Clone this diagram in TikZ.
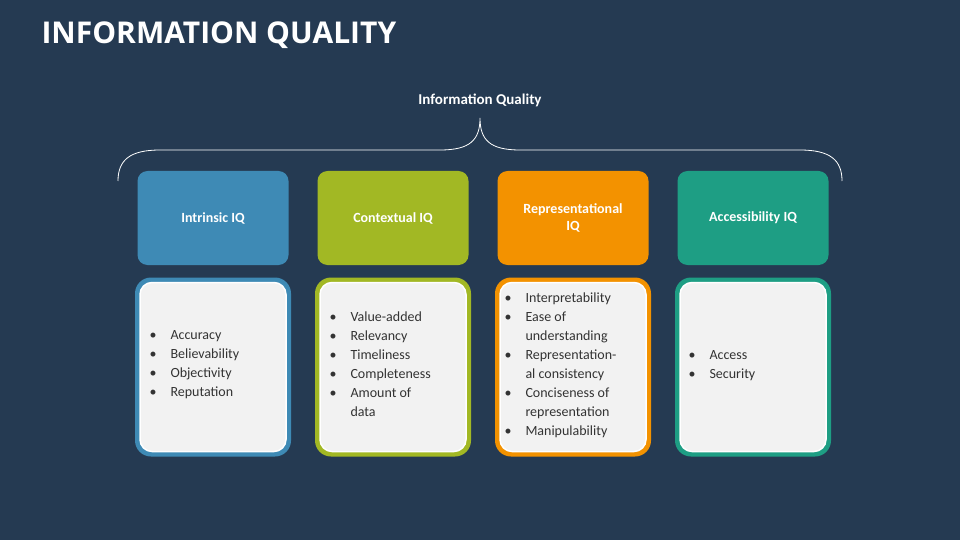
\documentclass[tikz,border=0pt]{standalone}
\usepackage{fontspec}
\setmainfont{Carlito}
\newfontfamily\titlefont{Open Sans}
\definecolor{bg}{HTML}{253A52}
\definecolor{cblue}{HTML}{3E8AB5}
\definecolor{cgreen}{HTML}{A2B824}
\definecolor{corange}{HTML}{F39200}
\definecolor{cteal}{HTML}{1E9E84}
\definecolor{inner}{HTML}{F2F2F2}
\begin{document}
\begin{tikzpicture}[x=1pt,y=-1pt,
  head/.style={rounded corners=10pt,minimum width=151pt,minimum height=94pt,text=white,font=\bfseries\fontsize{14}{17}\selectfont,align=center,inner sep=2pt},
  outerbox/.style={rounded corners=16pt,minimum width=156pt,minimum height=179pt,inner sep=0pt},
  innerbox/.style={rounded corners=12pt,fill=inner,draw=white,line width=1.5pt,minimum width=146pt,minimum height=169pt,inner sep=0pt},
  lst/.style={text=black!80,font=\fontsize{14}{19}\selectfont,align=left,anchor=north west}]
\fill[bg] (0,0) rectangle (960,540);
\useasboundingbox (0,0) rectangle (960,540);
\node[anchor=west,text=white,font=\titlefont\bfseries\fontsize{30}{34}\selectfont] (title) at (38,35) {INFORMATION QUALITY};
\node[text=white,font=\bfseries\fontsize{15}{18}\selectfont] (iq) at (480,100) {Information Quality};
\coordinate (bl) at (118,181); \coordinate (br) at (842,181); \coordinate (pk) at (480,118);
\draw[white,line width=0.8pt] (bl) .. controls (118,160) and (130,150) .. (160,150) -- (440,150) .. controls (470,150) and (480,140) .. (pk) .. controls (480,140) and (490,150) .. (520,150) -- (800,150) .. controls (830,150) and (842,160) .. (br);
\foreach \x/\c/\n/\t in {213/cblue/a/{Intrinsic IQ},393/cgreen/b/{Contextual IQ},573/corange/c/{Representational\\IQ},753/cteal/d/{Accessibility IQ}}{
  \node[head,fill=\c] (h\n) at (\x,218) {\t};
  \node[outerbox,fill=\c] (o\n) at (\x,367) {};
  \node[innerbox] (i\n) at (o\n.center) {};
}
\node[lst] (la) at (146,327) {\textbullet\hspace{14pt}Accuracy\\\textbullet\hspace{14pt}Believability\\\textbullet\hspace{14pt}Objectivity\\\textbullet\hspace{14pt}Reputation};
\node[lst] (lb) at (326,308) {\textbullet\hspace{14pt}Value-added\\\textbullet\hspace{14pt}Relevancy\\\textbullet\hspace{14pt}Timeliness\\\textbullet\hspace{14pt}Completeness\\\textbullet\hspace{14pt}Amount of\\\hspace{21pt}data};
\node[lst] (lc) at (501,289) {\textbullet\hspace{14pt}Interpretability\\\textbullet\hspace{14pt}Ease of\\\hspace{21pt}understanding\\\textbullet\hspace{14pt}Representation-\\\hspace{21pt}al consistency\\\textbullet\hspace{14pt}Conciseness of\\\hspace{21pt}representation\\\textbullet\hspace{14pt}Manipulability};
\node[lst] (ld) at (685,347) {\textbullet\hspace{14pt}Access\\\textbullet\hspace{14pt}Security};
\end{tikzpicture}
\end{document}
